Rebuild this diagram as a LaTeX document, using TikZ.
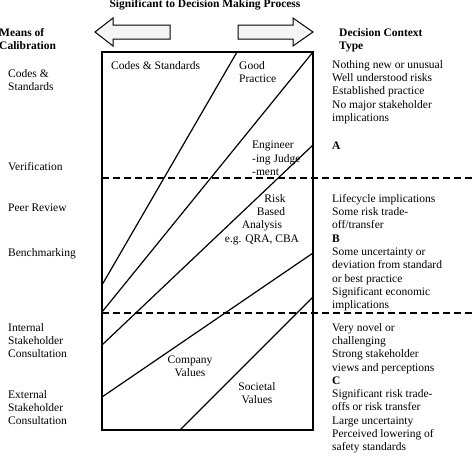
\documentclass[tikz,border=0pt]{standalone}
\usepackage{fontspec}
\setmainfont{Liberation Serif}
\begin{document}
\begin{tikzpicture}[x=1pt,y=-1pt,
            font=\fontsize{11.5}{13.3}\selectfont,
            every node/.style={inner sep=0pt},
            head/.style={font=\fontsize{11.5}{13.3}\selectfont\bfseries},
            txt/.style={anchor=north west,align=left},
            mid/.style={anchor=north,align=center},
            band/.style={line width=1.3pt,dash pattern=on 7pt off 4pt},
            cut/.style={line width=1.2pt},
            blockarrow/.style={draw,line width=1pt,fill=gray!8}]
            \useasboundingbox (0,0) rectangle (474,459);

            \node[head,anchor=base] at (205,7.5) (Title) {Significant to Decision Making Process};
            \draw[blockarrow] (95,32) -- (113,18) -- (113,25) -- (170,25) -- (170,39) -- (113,39) -- (113,46) -- cycle;
            \draw[blockarrow] (238,25) -- (293,25) -- (293,18) -- (313,32) -- (293,46) -- (293,39) -- (238,39) -- cycle;

            \node[head,txt] at (-1,28) (Means) {Means of\\Calibration};
            \node[head,txt] at (339,28) (Context) {Decision Context\\Type};

            \node[txt] at (8,69) (CodesL) {Codes \&\\Standards};
            \node[anchor=base west] at (8,170) (Verif) {Verification};
            \node[anchor=base west] at (8,211) (Peer) {Peer Review};
            \node[anchor=base west] at (8,256) (Bench) {Benchmarking};
            \node[txt] at (8,323) (Internal) {Internal\\Stakeholder\\Consultation};
            \node[txt] at (8,390) (External) {External\\Stakeholder\\Consultation};

            \draw[cut] (102,52) rectangle (313,430);
            \draw[cut] (237,52) -- (102,285);
            \draw[cut] (313,52) -- (102,312);
            \draw[cut] (313,145) -- (102,345);
            \draw[cut] (313,253) -- (102,397);
            \draw[cut] (313,297) -- (180,430);
            \draw[band] (102,178) -- (474,178);
            \draw[band] (102,313) -- (474,313);

            \node[anchor=base west] at (111,69) (Codes) {Codes \& Standards};
            \node[txt] at (239,61) (Good) {Good\\Practice};
            \node[txt] at (252,141) (Eng) {Engineer\\-ing Judge\\-ment};
            \node[mid] at (262,194) (Risk) {\hspace*{26pt}Risk\\\hspace*{18pt}Based\\Analysis\\e.g. QRA, CBA};
            \node[mid] at (190,355.6) (Company) {Company\\Values};
            \node[mid] at (257,382) (Societal) {Societal\\Values};

            \node[txt] at (332,60) (TypeA) {Nothing new or unusual\\Well understood risks\\Established practice\\No major stakeholder\\implications};
            \node[head,anchor=base west] at (332,149) (A) {A};
            \node[txt] at (332,194) (TypeB) {Lifecycle implications\\Some risk trade-\\off/transfer\\\textbf{B}\\Some uncertainty or\\deviation from standard\\or best practice\\Significant economic\\implications};
            \node[txt] at (332,323) (TypeC) {Very novel or\\challenging\\Strong stakeholder\\views and perceptions\\\textbf{C}\\Significant risk trade-\\offs or risk transfer\\Large uncertainty\\Perceived lowering of\\safety standards};
        \end{tikzpicture}
\end{document}
